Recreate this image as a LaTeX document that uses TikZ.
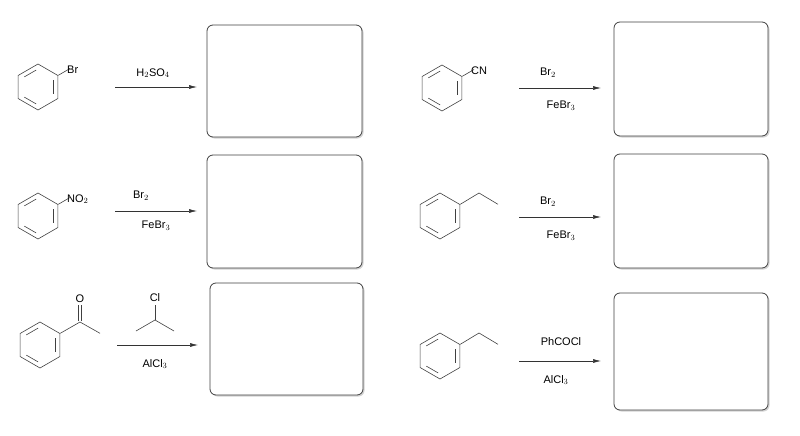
\documentclass[tikz,border=0pt]{standalone}
\usepackage{fontspec}
\setmainfont{Liberation Sans}
\usetikzlibrary{shadows,arrows.meta}
\tikzset{
  prodbox/.style={draw=black!75, line width=0.8pt, rounded corners=6pt, fill=white, drop shadow={shadow xshift=1.5pt, shadow yshift=-1.5pt, opacity=0.35}},
  rxn/.style={draw=black!80, line width=0.6pt, -{Latex[length=8pt,width=4pt]}},
  bond/.style={draw=black!75, line width=0.6pt},
  lbl/.style={font=\fontsize{11}{13}\selectfont, inner sep=1pt}
}
\newcommand{\benz}[2]{%
  \begin{scope}[shift={(#1pt,-#2pt)}, x=1pt, y=1pt]
    \draw[bond] (90:23) -- (30:23) -- (-30:23) -- (-90:23) -- (-150:23) -- (150:23) -- cycle;
    \draw[bond] ($(30:18)!0.12!(-30:18)$) -- ($(30:18)!0.88!(-30:18)$);
    \draw[bond] ($(-90:18)!0.12!(-150:18)$) -- ($(-90:18)!0.88!(-150:18)$);
    \draw[bond] ($(150:18)!0.12!(90:18)$) -- ($(150:18)!0.88!(90:18)$);
  \end{scope}}
\usetikzlibrary{calc}
\begin{document}
\begin{tikzpicture}[x=1pt,y=1pt]
\useasboundingbox (0,0) rectangle (800,-436);
% boxes
\node[prodbox, minimum width=155pt, minimum height=112pt] (b1) at (284.5,-81) {};
\node[prodbox, minimum width=155pt, minimum height=113pt] (b2) at (284.5,-211.5) {};
\node[prodbox, minimum width=153pt, minimum height=112pt] (b3) at (286.5,-339) {};
\node[prodbox, minimum width=154pt, minimum height=114pt] (b4) at (691,-79) {};
\node[prodbox, minimum width=154pt, minimum height=114pt] (b5) at (691,-211) {};
\node[prodbox, minimum width=154pt, minimum height=117pt] (b6) at (691,-351.5) {};
% row 1 left
\benz{38}{87}
\draw[bond] (58.3,-75.3) -- (70,-68.5);
\node[lbl, anchor=south west] (br) at (66,-75) {Br};
\coordinate (a1s) at (115,-87); \coordinate (a1e) at (197,-87);
\draw[rxn] (a1s) -- (a1e);
\node[lbl] (r1) at (153,-73) {H$_2$SO$_4$};
% row 2 left
\benz{38}{216}
\draw[bond] (58.3,-204.3) -- (70,-197.5);
\node[lbl, anchor=south west] (no2) at (66,-205) {NO$_2$};
\coordinate (a2s) at (115,-211); \coordinate (a2e) at (197,-211);
\draw[rxn] (a2s) -- (a2e);
\node[lbl] (r2a) at (141,-196) {Br$_2$};
\node[lbl] (r2b) at (156,-226) {FeBr$_3$};
% row 3 left
\benz{40}{345}
\coordinate (c1) at (80,-322);
\draw[bond] (60.3,-333.3) -- (c1) -- (100,-333.3);
\draw[bond] (78.3,-321) -- (78.3,-305);
\draw[bond] (81.7,-321) -- (81.7,-305);
\node[lbl] (o1) at (80,-299) {O};
\coordinate (c2) at (155,-320);
\draw[bond] (136,-331) -- (c2) -- (174,-331);
\draw[bond] (c2) -- (155,-305);
\node[lbl] (cl) at (155,-298) {Cl};
\coordinate (a3s) at (117,-345); \coordinate (a3e) at (198,-345);
\draw[rxn] (a3s) -- (a3e);
\node[lbl] (r3) at (155,-364) {AlCl$_3$};
% row 1 right
\benz{442}{88}
\draw[bond] (462.3,-76.3) -- (474,-69.5);
\node[lbl, anchor=south west] (cn) at (470,-76) {CN};
\coordinate (a4s) at (519,-88); \coordinate (a4e) at (601,-88);
\draw[rxn] (a4s) -- (a4e);
\node[lbl] (r4a) at (548,-73) {Br$_2$};
\node[lbl] (r4b) at (561,-106) {FeBr$_3$};
% row 2 right
\benz{440}{216}
\draw[bond] (460.3,-204.3) -- (479,-193) -- (498,-204.3);
\coordinate (a5s) at (519,-217); \coordinate (a5e) at (601,-217);
\draw[rxn] (a5s) -- (a5e);
\node[lbl] (r5a) at (548,-202) {Br$_2$};
\node[lbl] (r5b) at (561,-236) {FeBr$_3$};
% row 3 right
\benz{440}{356}
\draw[bond] (460.3,-344.3) -- (479,-333) -- (498,-344.3);
\coordinate (a6s) at (519,-361); \coordinate (a6e) at (601,-361);
\draw[rxn] (a6s) -- (a6e);
\node[lbl] (r6a) at (561,-342) {PhCOCl};
\node[lbl] (r6b) at (556,-380) {AlCl$_3$};
\end{tikzpicture}
\end{document}
